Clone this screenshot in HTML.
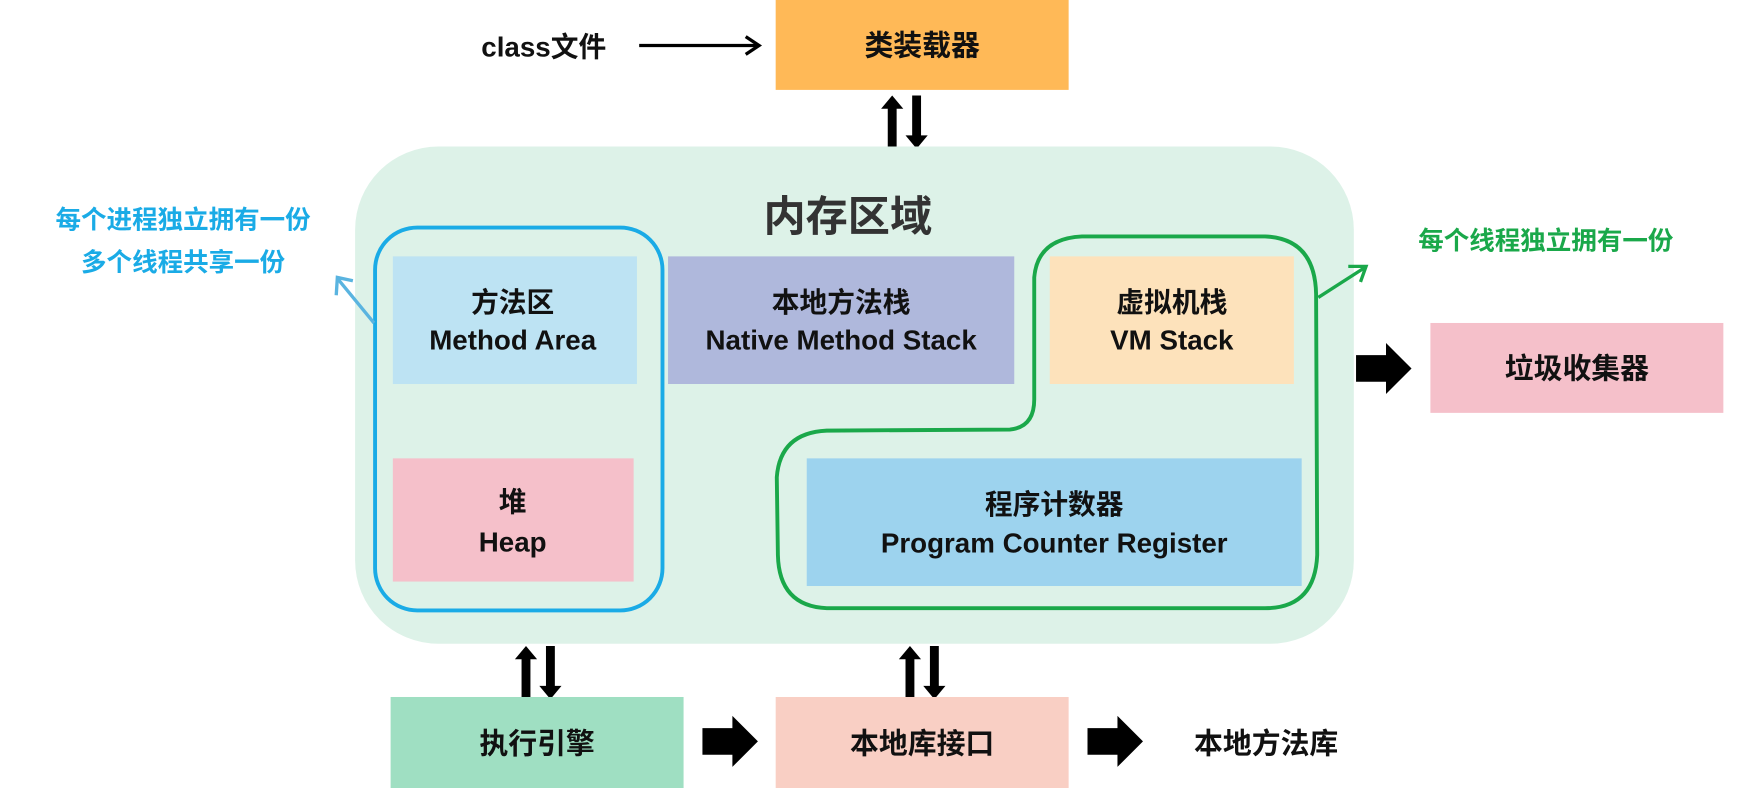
<!DOCTYPE html>
<html><head><meta charset="utf-8"><style>
html,body{margin:0;padding:0;background:#fff;}
svg{display:block;}
text{font-family:"Liberation Sans","Noto Sans CJK SC",sans-serif;font-weight:bold;}
</style></head><body>
<svg width="1740" height="788" viewBox="0 0 1568 710" preserveAspectRatio="none" xmlns="http://www.w3.org/2000/svg">
<defs>
<g id="ud">
<polygon points="-15,44 -15,8 -21,8 -11,-4 -1,8 -7,8 -7,44" fill="#000"/>
<polygon points="7,-4 7,32 1,32 11,44 21,32 15,32 15,-4" fill="#000"/>
</g>
<polygon id="blk" points="0,11 27,11 27,0 50,23 27,46 27,35 0,35" fill="#000"/>
</defs>
<rect x="0" y="0" width="1568" height="710" fill="#fff"/>
<!-- top -->
<text x="490" y="51" font-size="25" text-anchor="middle" fill="#111">class文件</text>
<line x1="576" y1="41" x2="682" y2="41" stroke="#000" stroke-width="3"/>
<polyline points="672,33 684,41 672,49" fill="none" stroke="#000" stroke-width="3"/>
<rect x="699" y="0" width="264" height="81" fill="#FFB957"/>
<text x="831" y="50" font-size="26" text-anchor="middle" fill="#111">类装载器</text>
<use href="#ud" x="815" y="90"/>
<!-- memory area -->
<rect x="320" y="132" width="900" height="448" rx="75" fill="#DDF2E8"/>
<text x="764" y="208" font-size="38" text-anchor="middle" fill="#333">内存区域</text>
<rect x="354" y="231" width="220" height="115" fill="#BDE3F3"/>
<text x="462" y="281" font-size="25" text-anchor="middle" fill="#111">方法区</text>
<text x="462" y="315" font-size="25" text-anchor="middle" fill="#111">Method Area</text>
<rect x="354" y="413" width="217" height="111" fill="#F5C0CA"/>
<text x="462" y="461" font-size="25" text-anchor="middle" fill="#111">堆</text>
<text x="462" y="497" font-size="25" text-anchor="middle" fill="#111">Heap</text>
<rect x="602" y="231" width="312" height="115" fill="#AFB8DC"/>
<text x="758" y="281" font-size="25" text-anchor="middle" fill="#111">本地方法栈</text>
<text x="758" y="315" font-size="25" text-anchor="middle" fill="#111">Native Method Stack</text>
<rect x="946" y="231" width="220" height="115" fill="#FDE2BB"/>
<text x="1056" y="281" font-size="25" text-anchor="middle" fill="#111">虚拟机栈</text>
<text x="1056" y="315" font-size="25" text-anchor="middle" fill="#111">VM Stack</text>
<rect x="727" y="413" width="446" height="115" fill="#9DD3EE"/>
<text x="950" y="463" font-size="25" text-anchor="middle" fill="#111">程序计数器</text>
<text x="950" y="498" font-size="25" text-anchor="middle" fill="#111">Program Counter Register</text>
<!-- blue outline -->
<rect x="338" y="205" width="259" height="345" rx="38" fill="none" stroke="#1AABE6" stroke-width="3.5"/>
<!-- green outline -->
<path d="M975,213 L1140,213 Q1185,215 1186,265 L1187,500 Q1185,548 1140,548 L745,548 Q702,546 701,500 L700,430 Q703,390 745,388 L910,387 Q932,385 932,360 L932,250 Q935,215 975,213 Z" fill="none" stroke="#1AA84A" stroke-width="3.5"/>
<!-- annotations -->
<text x="165" y="206" font-size="23" text-anchor="middle" fill="#1AABE6">每个进程独立拥有一份</text>
<text x="165" y="244" font-size="23" text-anchor="middle" fill="#1AABE6">多个线程共享一份</text>
<line x1="337" y1="291" x2="305" y2="252" stroke="#5AB4E0" stroke-width="3"/>
<polyline points="303,266 304,250 318,253" fill="none" stroke="#5AB4E0" stroke-width="3"/>
<text x="1393" y="225" font-size="23" text-anchor="middle" fill="#1AA84A">每个线程独立拥有一份</text>
<line x1="1188" y1="268" x2="1230" y2="241" stroke="#1AA84A" stroke-width="3"/>
<polyline points="1215,240 1231,240 1226,254" fill="none" stroke="#1AA84A" stroke-width="3"/>
<!-- gc -->
<use href="#blk" x="1222" y="309"/>
<rect x="1289" y="291" width="264" height="81" fill="#F5C0CA"/>
<text x="1421" y="341" font-size="26" text-anchor="middle" fill="#111">垃圾收集器</text>
<!-- bottom -->
<use href="#ud" x="485" y="586"/>
<use href="#ud" x="831" y="586"/>
<rect x="352" y="628" width="264" height="82" fill="#9FDFC2"/>
<text x="484" y="679" font-size="26" text-anchor="middle" fill="#111">执行引擎</text>
<use href="#blk" x="633" y="645"/>
<rect x="699" y="628" width="264" height="82" fill="#F9CFC4"/>
<text x="831" y="679" font-size="26" text-anchor="middle" fill="#111">本地库接口</text>
<use href="#blk" x="980" y="645"/>
<text x="1141" y="679" font-size="26" text-anchor="middle" fill="#111">本地方法库</text>
</svg>
</body></html>
